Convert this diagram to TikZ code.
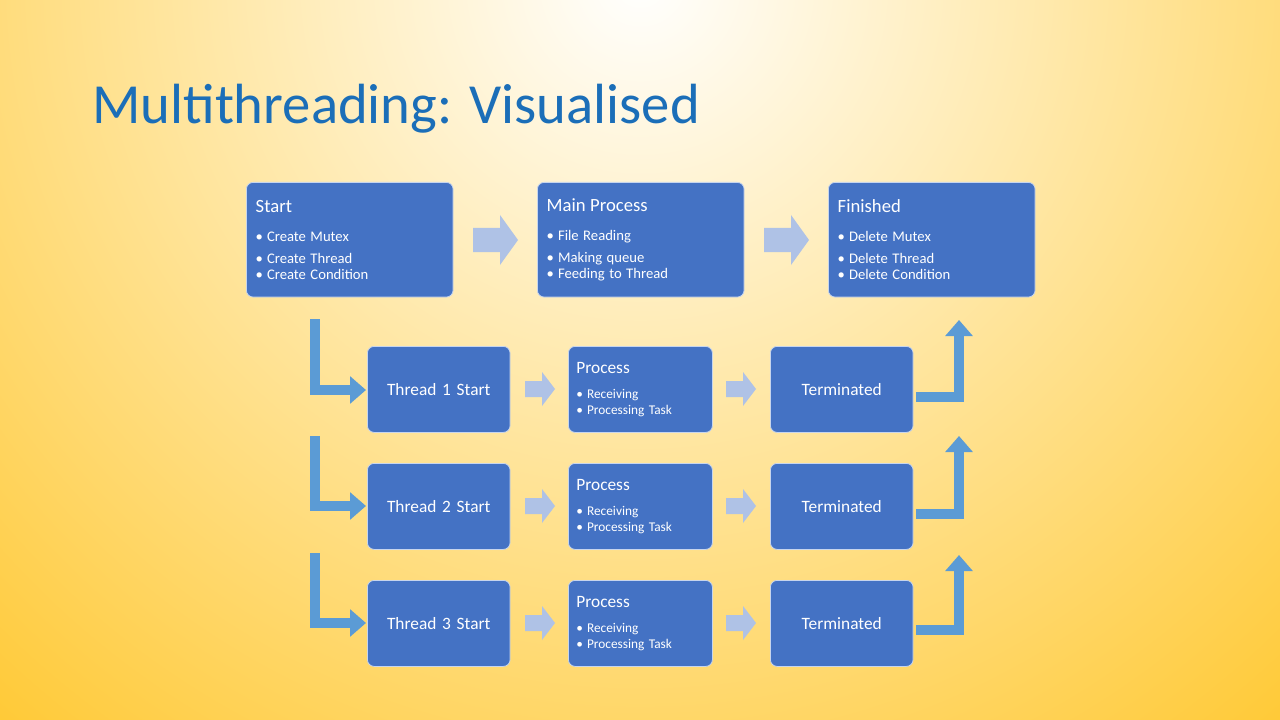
\documentclass[tikz,border=0pt]{standalone}
\usepackage{fontspec}
\setmainfont{Carlito}
\usetikzlibrary{arrows.meta}
\definecolor{boxblue}{HTML}{4472C4}
\definecolor{arrlight}{HTML}{AFC2E6}
\definecolor{arrmid}{HTML}{5B9BD5}
\definecolor{titleblue}{HTML}{1B6EB8}
\definecolor{bgorange}{HTML}{FFBB00}
\tikzset{
 box/.style={fill=boxblue, draw=white!70!boxblue, line width=0.6pt, rounded corners=5pt, text=white, anchor=north west, inner xsep=7pt, inner ysep=0pt},
 bigbox/.style={box, align=left, text width=141pt, minimum height=86pt},
 smallbox/.style={box, align=center, text width=93pt, minimum height=64.5pt, font=\fontsize{13}{16}\selectfont},
 procbox/.style={box, align=left, text width=96pt, minimum height=64.5pt, inner xsep=6pt},
 larrow/.style={draw=arrmid, line width=8pt, -{Triangle[width=20pt,length=12pt]}},
}
\newcommand{\bl}[1]{\textbullet\hspace{3pt}#1}
\newcommand{\blockarrow}[3]{% x0, x1, y
 \fill[arrlight] (#1,#3-12) -- (#2-18,#3-12) -- (#2-18,#3-25) -- (#2,#3) -- (#2-18,#3+25) -- (#2-18,#3+12) -- (#1,#3+12) -- cycle;}
\newcommand{\smallarrow}[3]{%
 \fill[arrlight] (#1,#3-8) -- (#2-13,#3-8) -- (#2-13,#3-17) -- (#2,#3) -- (#2-13,#3+17) -- (#2-13,#3+8) -- (#1,#3+8) -- cycle;}
\begin{document}
\begin{tikzpicture}[x=0.75pt,y=-0.75pt]
\useasboundingbox (0,0) rectangle (1280,720);
\begin{scope}
\clip (0,0) rectangle (1280,720);
\shade[inner color=white, outer color=bgorange] (640,-20) circle (1250);
\end{scope}
\node[anchor=base west, text=titleblue, font=\fontsize{42.5}{50}\selectfont, inner sep=0pt] (title) at (92,124) {Multithreading: Visualised};

\node[bigbox] (start) at (246,182) {\fontsize{11}{16.5}\selectfont{\fontsize{14}{17}\selectfont Start\par}\vspace{5pt}\bl{Create Mutex}\\\bl{Create Thread}\\\bl{Create Condition}};
\node[bigbox] (main) at (537,182) {\fontsize{11}{16.5}\selectfont{\fontsize{14}{17}\selectfont Main Process\par}\vspace{5pt}\bl{File Reading}\\\bl{Making queue}\\\bl{Feeding to Thread}};
\node[bigbox] (fin) at (828,182) {\fontsize{11}{16.5}\selectfont{\fontsize{14}{17}\selectfont Finished\par}\vspace{5pt}\bl{Delete Mutex}\\\bl{Delete Thread}\\\bl{Delete Condition}};
\blockarrow{473}{518}{240}
\blockarrow{764}{809}{240}

\foreach \i/\y/\ly/\ry/\ty in {1/346/390/397/320, 2/463/506/514/436, 3/580/623/630/555}{
 \node[smallbox] (t\i) at (367,\y) {Thread \i\ Start};
 \node[procbox] (p\i) at (568,\y) {\fontsize{10}{15}\selectfont{\fontsize{13}{16}\selectfont Process\par}\vspace{4pt}\bl{Receiving}\\\bl{Processing Task}};
 \node[smallbox] (e\i) at (770,\y) {Terminated};
 \smallarrow{525}{555}{\y+43}
 \smallarrow{726}{756}{\y+43}
 \coordinate (ls\i) at (315,\y-27);
 \coordinate (le\i) at (366,\ly);
 \draw[larrow] (ls\i) -- (315,\ly) -- (le\i);
 \coordinate (rs\i) at (916,\ry);
 \coordinate (re\i) at (959,\ty);
 \draw[larrow] (rs\i) -- (959,\ry) -- (re\i);
}
\end{tikzpicture}
\end{document}
